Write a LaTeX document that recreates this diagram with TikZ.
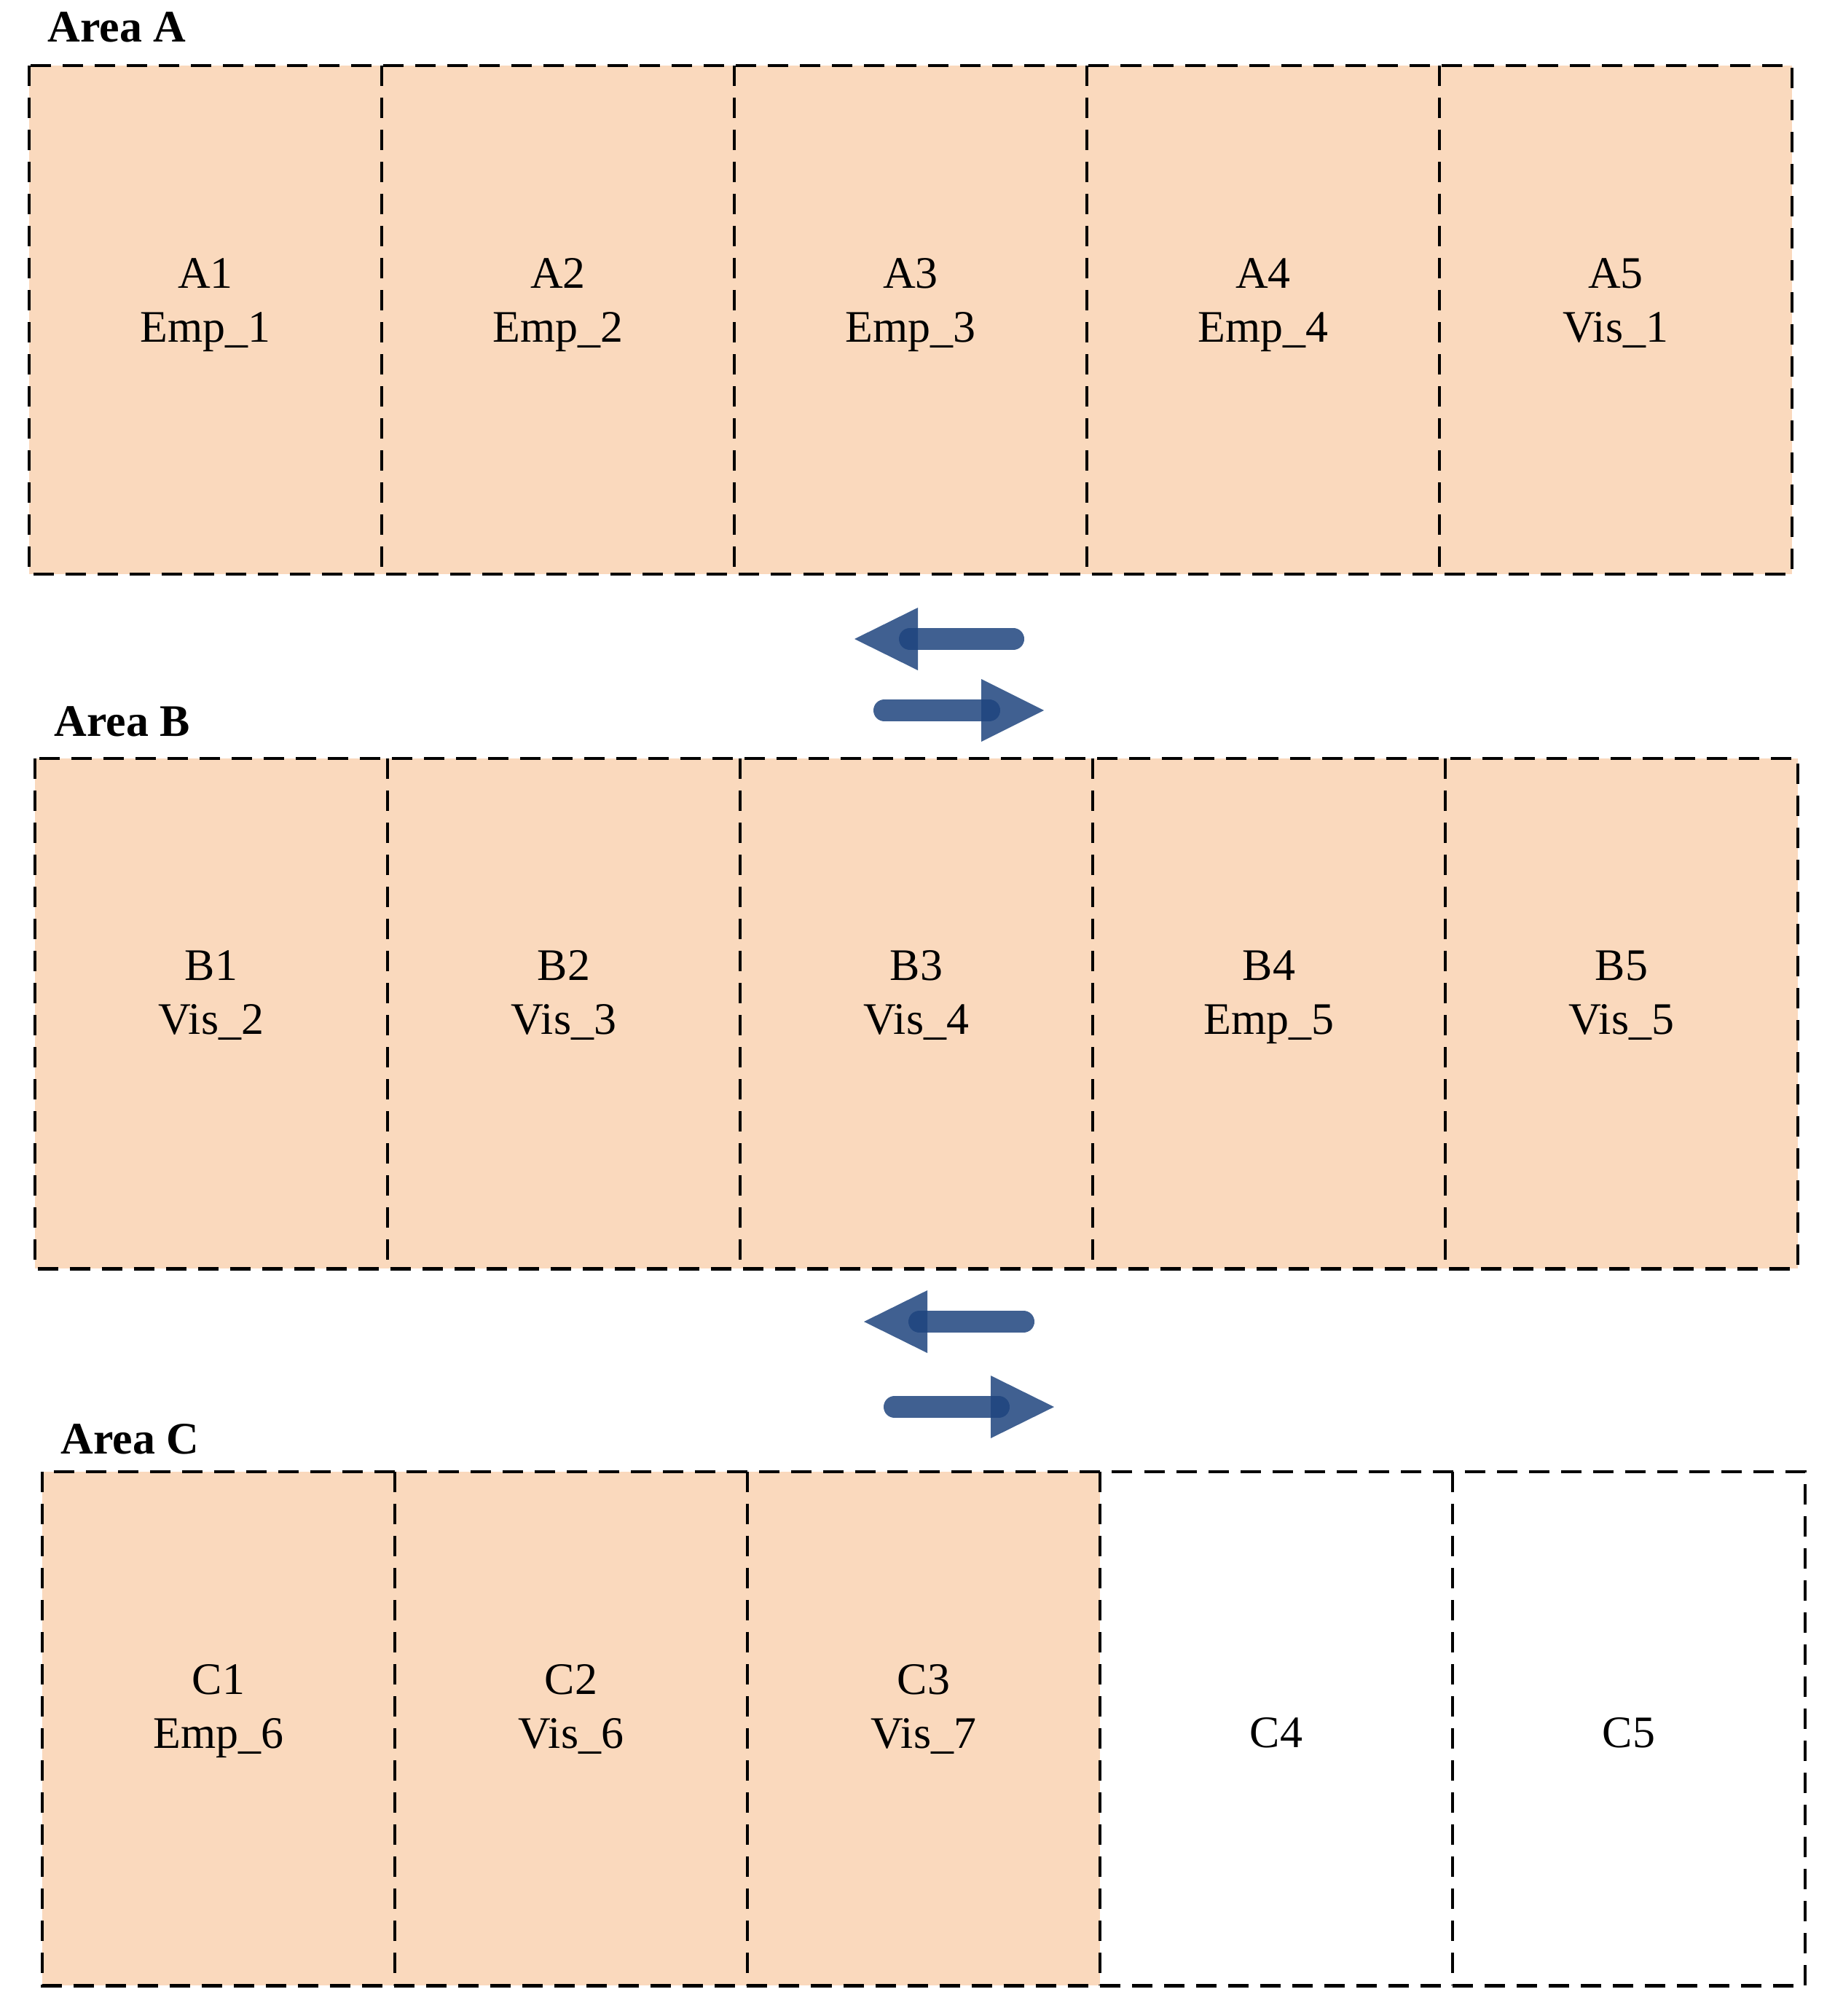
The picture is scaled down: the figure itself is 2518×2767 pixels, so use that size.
\documentclass[tikz,border=0pt]{standalone}
\usepackage{fontspec}
\setmainfont{Liberation Serif}
\usetikzlibrary{positioning}

\definecolor{cellfill}{RGB}{250,217,189}
\definecolor{flowblue}{RGB}{30,68,126}

\tikzset{
    cell/.style={rectangle, fill=cellfill, minimum width=4.84cm, inner sep=0pt, outer sep=0pt},
    emptycell/.style={cell, fill=none},
    gridline/.style={black, line width=1.3pt, dash pattern=on 0.28cm off 0.16cm},
    celltext/.style={align=center, inner sep=0pt, font=\fontsize{17.6}{21}\selectfont},
    arealabel/.style={inner sep=0pt, anchor=base west, font=\fontsize{17.6}{21}\selectfont\bfseries},
    flowline/.style={flowblue, opacity=0.85, line width=0.3cm, line cap=round},
    flowhead/.style={fill=flowblue, opacity=0.85}
}

\begin{document}
\begin{tikzpicture}[x=0.01cm, y=-0.01cm]
    \useasboundingbox (0,0) rectangle (2518,2767);

    % Area A
    \node [arealabel] (labA) at (65,58) {Area A};
    \node [cell, minimum height=6.98cm] (A1) at (282,439) {};
    \node [cell, minimum height=6.98cm] (A2) at (766,439) {};
    \node [cell, minimum height=6.98cm] (A3) at (1250,439) {};
    \node [cell, minimum height=6.98cm] (A4) at (1734,439) {};
    \node [cell, minimum height=6.98cm] (A5) at (2218,439) {};
    \draw [gridline] (A1.north west) rectangle (A5.south east);
    \draw [gridline] (A1.north east) -- (A1.south east);
    \draw [gridline] (A2.north east) -- (A2.south east);
    \draw [gridline] (A3.north east) -- (A3.south east);
    \draw [gridline] (A4.north east) -- (A4.south east);
    \node [celltext, yshift=0.21cm] (tA1) at (A1.center) {\strut A1\\\strut Emp\_1};
    \node [celltext, yshift=0.21cm] (tA2) at (A2.center) {\strut A2\\\strut Emp\_2};
    \node [celltext, yshift=0.21cm] (tA3) at (A3.center) {\strut A3\\\strut Emp\_3};
    \node [celltext, yshift=0.21cm] (tA4) at (A4.center) {\strut A4\\\strut Emp\_4};
    \node [celltext, yshift=0.21cm] (tA5) at (A5.center) {\strut A5\\\strut Vis\_1};

    % Area B
    \node [arealabel] (labB) at (74,1010) {Area B};
    \node [cell, minimum height=7cm] (B1) at (290,1391) {};
    \node [cell, minimum height=7cm] (B2) at (774,1391) {};
    \node [cell, minimum height=7cm] (B3) at (1258,1391) {};
    \node [cell, minimum height=7cm] (B4) at (1742,1391) {};
    \node [cell, minimum height=7cm] (B5) at (2226,1391) {};
    \draw [gridline] (B1.north west) rectangle (B5.south east);
    \draw [gridline] (B1.north east) -- (B1.south east);
    \draw [gridline] (B2.north east) -- (B2.south east);
    \draw [gridline] (B3.north east) -- (B3.south east);
    \draw [gridline] (B4.north east) -- (B4.south east);
    \node [celltext, yshift=0.23cm] (tB1) at (B1.center) {\strut B1\\\strut Vis\_2};
    \node [celltext, yshift=0.23cm] (tB2) at (B2.center) {\strut B2\\\strut Vis\_3};
    \node [celltext, yshift=0.23cm] (tB3) at (B3.center) {\strut B3\\\strut Vis\_4};
    \node [celltext, yshift=0.23cm] (tB4) at (B4.center) {\strut B4\\\strut Emp\_5};
    \node [celltext, yshift=0.23cm] (tB5) at (B5.center) {\strut B5\\\strut Vis\_5};

    % Area C
    \node [arealabel] (labC) at (83,1995) {Area C};
    \node [cell, minimum height=7.05cm] (C1) at (300,2372.5) {};
    \node [cell, minimum height=7.05cm] (C2) at (784,2372.5) {};
    \node [cell, minimum height=7.05cm] (C3) at (1268,2372.5) {};
    \node [emptycell, minimum height=7.05cm] (C4) at (1752,2372.5) {};
    \node [emptycell, minimum height=7.05cm] (C5) at (2236,2372.5) {};
    \draw [gridline] (C1.north west) rectangle (C5.south east);
    \draw [gridline] (C1.north east) -- (C1.south east);
    \draw [gridline] (C2.north east) -- (C2.south east);
    \draw [gridline] (C3.north east) -- (C3.south east);
    \draw [gridline] (C4.north east) -- (C4.south east);
    \node [celltext, yshift=0.25cm] (tC1) at (C1.center) {\strut C1\\\strut Emp\_6};
    \node [celltext, yshift=0.25cm] (tC2) at (C2.center) {\strut C2\\\strut Vis\_6};
    \node [celltext, yshift=0.25cm] (tC3) at (C3.center) {\strut C3\\\strut Vis\_7};
    \node [celltext, yshift=-0.06cm] (tC4) at (C4.center) {C4};
    \node [celltext, yshift=-0.06cm] (tC5) at (C5.center) {C5};

    % exchange arrows between A and B
    \coordinate (abLs) at (1391,877);
    \coordinate (abLe) at (1249,877);
    \coordinate (abLt) at (1173,877);
    \coordinate (abRs) at (1214,975);
    \coordinate (abRe) at (1358,975);
    \coordinate (abRt) at (1433,975);
    \draw [flowline] (abLs) -- (abLe);
    \fill [flowhead] (abLt) -- ++(87,-43) -- ++(0,86) -- cycle;
    \draw [flowline] (abRs) -- (abRe);
    \fill [flowhead] (abRt) -- ++(-86,-43) -- ++(0,86) -- cycle;

    % exchange arrows between B and C
    \coordinate (bcLs) at (1405,1814);
    \coordinate (bcLe) at (1262,1814);
    \coordinate (bcLt) at (1186,1814);
    \coordinate (bcRs) at (1228,1931);
    \coordinate (bcRe) at (1371,1931);
    \coordinate (bcRt) at (1447,1931);
    \draw [flowline] (bcLs) -- (bcLe);
    \fill [flowhead] (bcLt) -- ++(87,-43) -- ++(0,86) -- cycle;
    \draw [flowline] (bcRs) -- (bcRe);
    \fill [flowhead] (bcRt) -- ++(-87,-43) -- ++(0,86) -- cycle;
\end{tikzpicture}
\end{document}
